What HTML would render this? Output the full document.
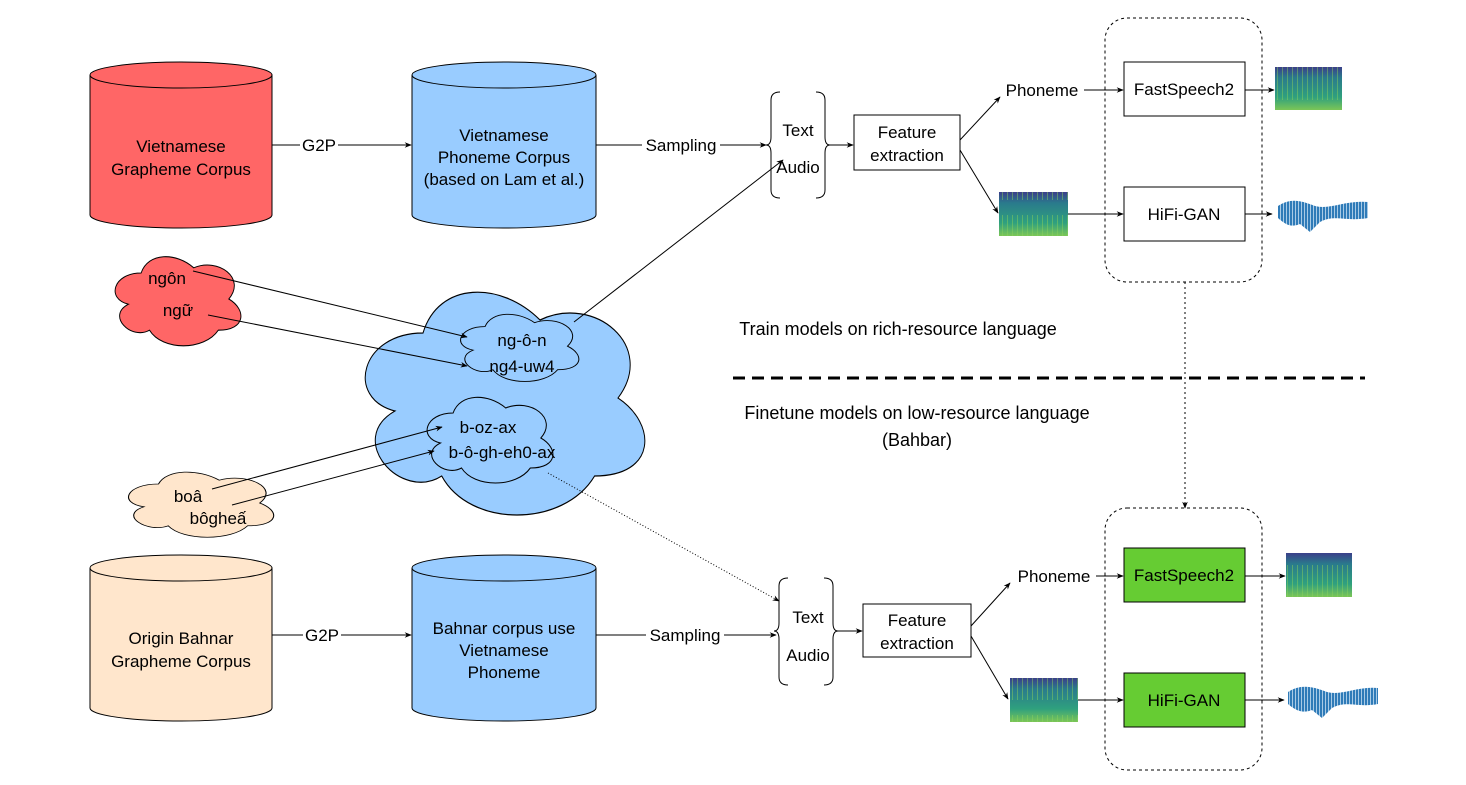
<!DOCTYPE html>
<html><head><meta charset="utf-8"><style>
body{margin:0;background:#fff}
svg text{font-family:"Liberation Sans",Arial,sans-serif;font-size:17px;fill:#000}
</style></head><body>
<svg width="1466" height="780" viewBox="0 0 1466 780" xmlns="http://www.w3.org/2000/svg">
<defs>
<marker id="a" viewBox="0 0 10 10" refX="9" refY="5" markerWidth="7" markerHeight="7" orient="auto"><path d="M0,1 L10,5 L0,9 L3,5 Z" fill="#000"/></marker>
<linearGradient id="sp" x1="0" y1="0" x2="0" y2="1"><stop offset="0" stop-color="#3b3f8a"/><stop offset="0.25" stop-color="#2a7a8c"/><stop offset="0.7" stop-color="#2fa07e"/><stop offset="1" stop-color="#7cc656"/></linearGradient>
<pattern id="vl" width="5" height="50" patternUnits="userSpaceOnUse"><rect x="2" y="15" width="1" height="35" fill="#8fd35a" opacity="0.45"/></pattern>
<pattern id="wv" width="3" height="40" patternUnits="userSpaceOnUse"><rect width="3" height="40" fill="#2f7bb8"/><rect x="2" width="1" height="40" fill="#a9cbe6"/></pattern>
<path id="cloud" d="M 30 20 C 6 20 0 40 19.2 44 C 0 52.8 21.6 72 37.2 64 C 48 80 84 80 96 64 C 120 64 120 48 105 40 C 120 24 96 8 75 16 C 60 4 36 4 30 20 Z"/>
<g id="spec"><rect width="1" height="1" fill="url(#sp)"/></g>
</defs>
<g text-anchor="middle">
<path d="M90,75 L90,215 A91,13 0 0 0 272,215 L272,75" fill="#ff6666" stroke="#000"/>
<ellipse cx="181" cy="75" rx="91" ry="13" fill="#ff6666" stroke="#000"/>
<text x="181" y="152">Vietnamese</text><text x="181" y="175">Grapheme Corpus</text>
<path d="M412,75 L412,215 A92,13 0 0 0 596,215 L596,75" fill="#99ccff" stroke="#000"/>
<ellipse cx="504" cy="75" rx="92" ry="13" fill="#99ccff" stroke="#000"/>
<text x="504" y="141">Vietnamese</text><text x="504" y="163">Phoneme Corpus</text><text x="504" y="185">(based on Lam et al.)</text>
<line x1="272" y1="145" x2="411" y2="145" stroke="#000" marker-end="url(#a)"/>
<rect x="300" y="134" width="38" height="20" fill="#fff"/><text x="319" y="151">G2P</text>
<line x1="596" y1="145" x2="766" y2="145" stroke="#000" marker-end="url(#a)"/>
<rect x="642" y="134" width="78" height="20" fill="#fff"/><text x="681" y="151">Sampling</text>
<path d="M780,92 Q771,92 771,100 L771,137 Q771,145 766,145 Q771,145 771,153 L771,190 Q771,198 780,198" fill="none" stroke="#000"/>
<path d="M816,92 Q825,92 825,100 L825,137 Q825,145 830,145 Q825,145 825,153 L825,190 Q825,198 816,198" fill="none" stroke="#000"/>
<text x="798" y="136">Text</text><text x="798" y="173">Audio</text>
<line x1="830" y1="145" x2="853" y2="145" stroke="#000" marker-end="url(#a)"/>
<rect x="854" y="115" width="106" height="55" fill="#fff" stroke="#000"/>
<text x="907" y="138">Feature</text><text x="907" y="161">extraction</text>
<line x1="960" y1="140" x2="1000" y2="97" stroke="#000" marker-end="url(#a)"/>
<text x="1042" y="96">Phoneme</text>
<line x1="1084" y1="90" x2="1123" y2="90" stroke="#000" marker-end="url(#a)"/>
<rect x="1124" y="62" width="121" height="54" fill="#fff" stroke="#000"/><text x="1184" y="95">FastSpeech2</text>
<line x1="1245" y1="90" x2="1274" y2="90" stroke="#000" marker-end="url(#a)"/>
<rect x="1275" y="67" width="67" height="43" fill="url(#sp)"/><rect x="1275" y="67" width="67" height="43" fill="url(#vl)"/>
<line x1="960" y1="150" x2="998" y2="213" stroke="#000" marker-end="url(#a)"/>
<rect x="999" y="192" width="69" height="44" fill="url(#sp)"/><rect x="999" y="192" width="69" height="44" fill="url(#vl)"/>
<line x1="1068" y1="214" x2="1123" y2="214" stroke="#000" marker-end="url(#a)"/>
<rect x="1124" y="187" width="121" height="54" fill="#fff" stroke="#000"/><text x="1184" y="220">HiFi-GAN</text>
<line x1="1245" y1="214" x2="1272" y2="214" stroke="#000" marker-end="url(#a)"/>
<path d="M1278,206 C1290,198 1300,200 1315,206 C1330,210 1345,200 1368,202 L1368,218 C1345,222 1335,214 1320,222 L1310,232 L1300,224 C1290,228 1285,224 1278,218 Z" fill="url(#wv)"/>
<rect x="1105" y="18" width="157" height="264" rx="22" fill="none" stroke="#000" stroke-dasharray="3,3"/>
<line x1="1185" y1="282" x2="1185" y2="508" stroke="#000" stroke-dasharray="2,3" marker-end="url(#a)"/>
<text x="898" y="335" style="font-size:18px">Train models on rich-resource language</text>
<line x1="733" y1="378" x2="1365" y2="378" stroke="#000" stroke-width="3" stroke-dasharray="12,7"/>
<text x="917" y="419" style="font-size:18px">Finetune models on low-resource language</text>
<text x="917" y="446" style="font-size:18px">(Bahbar)</text>
<path d="M90,568 L90,708 A91,13 0 0 0 272,708 L272,568" fill="#ffe6cc" stroke="#000"/>
<ellipse cx="181" cy="568" rx="91" ry="13" fill="#ffe6cc" stroke="#000"/>
<text x="181" y="644">Origin Bahnar</text><text x="181" y="667">Grapheme Corpus</text>
<path d="M412,568 L412,708 A92,13 0 0 0 596,708 L596,568" fill="#99ccff" stroke="#000"/>
<ellipse cx="504" cy="568" rx="92" ry="13" fill="#99ccff" stroke="#000"/>
<text x="504" y="634">Bahnar corpus use</text><text x="504" y="656">Vietnamese</text><text x="504" y="678">Phoneme</text>
<line x1="272" y1="635" x2="411" y2="635" stroke="#000" marker-end="url(#a)"/>
<rect x="303" y="624" width="38" height="20" fill="#fff"/><text x="322" y="641">G2P</text>
<line x1="596" y1="635" x2="776" y2="635" stroke="#000" marker-end="url(#a)"/>
<rect x="646" y="624" width="78" height="20" fill="#fff"/><text x="685" y="641">Sampling</text>
<path d="M788,578 Q779,578 779,586 L779,623 Q779,631 774,631 Q779,631 779,639 L779,677 Q779,685 788,685" fill="none" stroke="#000"/>
<path d="M824,578 Q833,578 833,586 L833,623 Q833,631 838,631 Q833,631 833,639 L833,677 Q833,685 824,685" fill="none" stroke="#000"/>
<text x="808" y="623">Text</text><text x="808" y="661">Audio</text>
<line x1="838" y1="631" x2="862" y2="631" stroke="#000" marker-end="url(#a)"/>
<rect x="863" y="604" width="108" height="53" fill="#fff" stroke="#000"/>
<text x="917" y="626">Feature</text><text x="917" y="649">extraction</text>
<line x1="971" y1="626" x2="1010" y2="583" stroke="#000" marker-end="url(#a)"/>
<text x="1054" y="582">Phoneme</text>
<line x1="1096" y1="576" x2="1123" y2="576" stroke="#000" marker-end="url(#a)"/>
<rect x="1124" y="548" width="121" height="54" fill="#66cc33" stroke="#000"/><text x="1184" y="581">FastSpeech2</text>
<line x1="1245" y1="576" x2="1285" y2="576" stroke="#000" marker-end="url(#a)"/>
<rect x="1286" y="553" width="66" height="44" fill="url(#sp)"/><rect x="1286" y="553" width="66" height="44" fill="url(#vl)"/>
<line x1="971" y1="636" x2="1008" y2="699" stroke="#000" marker-end="url(#a)"/>
<rect x="1010" y="678" width="68" height="44" fill="url(#sp)"/><rect x="1010" y="678" width="68" height="44" fill="url(#vl)"/>
<line x1="1078" y1="700" x2="1123" y2="700" stroke="#000" marker-end="url(#a)"/>
<rect x="1124" y="673" width="121" height="54" fill="#66cc33" stroke="#000"/><text x="1184" y="706">HiFi-GAN</text>
<line x1="1245" y1="700" x2="1284" y2="700" stroke="#000" marker-end="url(#a)"/>
<path d="M1288,692 C1300,684 1312,686 1327,692 C1342,696 1357,686 1378,688 L1378,704 C1357,708 1347,700 1332,708 L1322,718 L1312,710 C1302,714 1295,710 1288,704 Z" fill="url(#wv)"/>
<rect x="1105" y="508" width="157" height="262" rx="22" fill="none" stroke="#000" stroke-dasharray="3,3"/>
<use href="#cloud" transform="translate(106,247) scale(1.17,1.3)" fill="#ff6666" stroke="#000" stroke-width="0.8"/>
<use href="#cloud" transform="translate(118,465) scale(1.35,0.95)" fill="#ffe6cc" stroke="#000" stroke-width="0.8"/>
<use href="#cloud" transform="translate(345,268) scale(2.6,3.25)" fill="#99ccff" stroke="#000" stroke-width="0.38"/>
<use href="#cloud" transform="translate(452,307) scale(1.1,0.98)" fill="#99ccff" stroke="#000" stroke-width="0.9"/>
<use href="#cloud" transform="translate(418,388) scale(1.17,1.25)" fill="#99ccff" stroke="#000" stroke-width="0.85"/>
<text x="167" y="284">ngôn</text><text x="178" y="316">ngữ</text>
<text x="188" y="502">boâ</text><text x="218" y="524">bôgheấ</text>
<text x="522" y="346">ng-ô-n</text><text x="522" y="372">ng4-uw4</text>
<text x="488" y="433">b-oz-ax</text><text x="502" y="458">b-ô-gh-eh0-ax</text>
<line x1="193" y1="271" x2="467" y2="337" stroke="#000" marker-end="url(#a)"/>
<line x1="208" y1="315" x2="467" y2="366" stroke="#000" marker-end="url(#a)"/>
<line x1="212" y1="489" x2="442" y2="427" stroke="#000" marker-end="url(#a)"/>
<line x1="232" y1="505" x2="434" y2="451" stroke="#000" marker-end="url(#a)"/>
<line x1="574" y1="322" x2="783" y2="160" stroke="#000" marker-end="url(#a)"/>
<line x1="548" y1="473" x2="779" y2="601" stroke="#000" stroke-dasharray="1,2" marker-end="url(#a)"/>
</g>
</svg>
</body></html>
